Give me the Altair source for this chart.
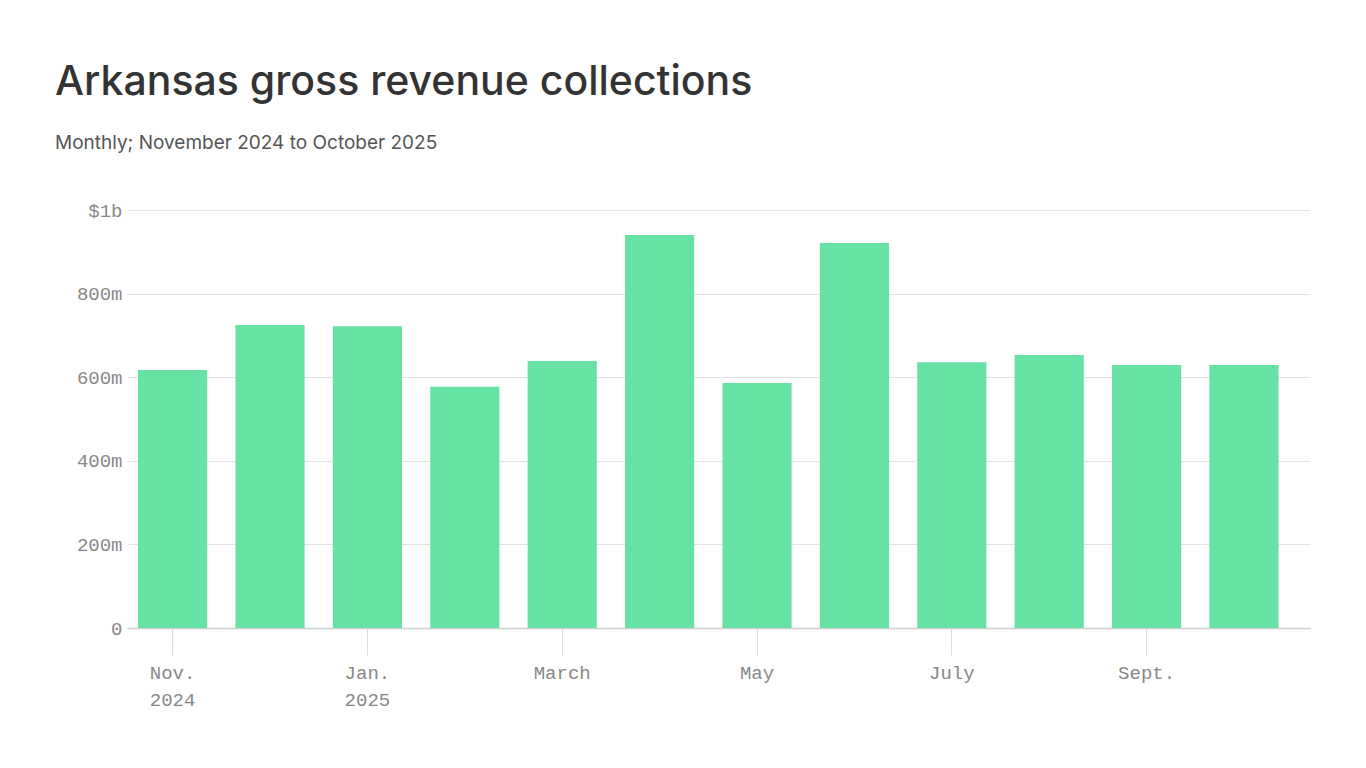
import altair as alt
import pandas as pd

months = ["Nov.|2024", "Dec.", "Jan.|2025", "Feb.", "March", "April",
          "May", "June", "July", "Aug.", "Sept.", "Oct."]
revenue_m = [617, 725, 722, 577, 639, 940, 586, 921, 636, 653, 629, 629]
tick_months = ["Nov.|2024", "Jan.|2025", "March", "May", "July", "Sept."]
y_ticks = [0, 200, 400, 600, 800, 1000]

df = pd.DataFrame({"month": months, "revenue": revenue_m})

mono = "Liberation Mono"
sans = "Inter"

chart = alt.Chart(df).mark_bar(color="#66e2a4").encode(
    x=alt.X("month:N", sort=months,
            scale=alt.Scale(paddingInner=0.29, paddingOuter=0.218, align=0.26),
            axis=alt.Axis(title=None, values=tick_months,
                          labelExpr="split(datum.value, '|')",
                          labelAngle=0, labelFont=mono, labelFontSize=19,
                          labelColor="#888888", labelPadding=17,
                          labelLineHeight=27,
                          tickColor="#dddddd", tickSize=27, tickWidth=1,
                          domainColor="#d0d0d0", domainWidth=1.5,
                          grid=False, labelBaseline="middle")),
    y=alt.Y("revenue:Q",
            scale=alt.Scale(domain=[0, 1000], nice=False),
            axis=alt.Axis(title=None, values=y_ticks,
                          labelExpr="datum.value == 1000 ? '$1b' : datum.value == 0 ? '0' : datum.value + 'm'",
                          labelFont=mono, labelFontSize=19, labelColor="#888888",
                          labelPadding=5, ticks=False, domain=False,
                          gridColor="#e2e2e2", gridWidth=1.2)),
).properties(
    width=1183,
    height=418,
    background="white",
    autosize=alt.AutoSizeParams(type="none"),
    padding={"left": 127, "top": 210, "right": 56, "bottom": 140},
    title=alt.TitleParams(
        text="Arkansas gross revenue collections",
        subtitle="Monthly; November 2024 to October 2025",
        anchor="start", frame="group", dx=-72, offset=47,
        font=sans, fontSize=41, fontWeight=500, color="#333333",
        subtitleFont=sans, subtitleFontSize=19, subtitleColor="#555555",
        subtitlePadding=30,
    ),
).configure_view(strokeWidth=0, stroke=None)

chart.save("out.html", embed_options={"renderer": "svg", "actions": False})
